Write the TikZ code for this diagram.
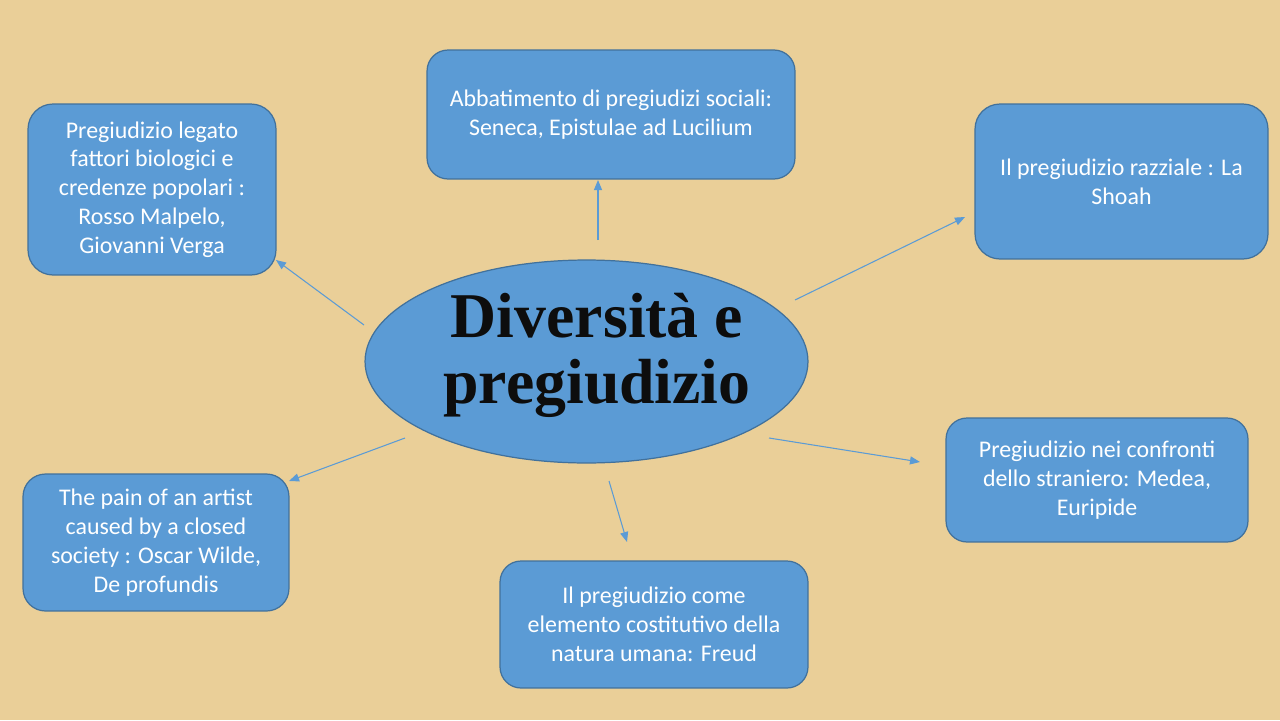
\documentclass[tikz,border=0pt]{standalone}
\usepackage{fontspec}
\setmainfont{Carlito}
\newfontfamily\titlefont{Liberation Serif}
\usepackage{xcolor}
\usepackage{tikz}
\usetikzlibrary{shapes.geometric, arrows.meta}
\definecolor{papyrus}{RGB}{234,207,152}
\definecolor{boxblue}{RGB}{91,155,213}
\definecolor{boxline}{RGB}{65,113,156}
\tikzstyle{topic} = [rectangle, rounded corners=0.5cm, align=center, inner sep=0pt, draw=boxline, line width=0.7pt, fill=boxblue, text=white, font=\fontsize{13.6}{16.4}\selectfont]
\tikzstyle{hub} = [ellipse, inner sep=0pt, draw=boxline, line width=0.7pt, fill=boxblue]
\tikzstyle{hubtext} = [align=center, inner sep=0pt, text=black!95, font=\titlefont\bfseries\fontsize{36.3}{37.5}\selectfont]
\tikzstyle{link} = [draw=boxblue, line width=0.6pt, -{Triangle[length=0.2cm,width=0.16cm]}]

\begin{document}
\begin{tikzpicture}[x=0.02cm, y=-0.02cm]

		\fill[papyrus] (0,0) rectangle (1280,720);
		\useasboundingbox (0,0) rectangle (1280,720);

		\node (theme) [hub, minimum width=8.86cm, minimum height=4.06cm] at (586.5,361.5) {};
		\node (themeText) [hubtext] at (597,355) {Diversità e\\pregiudizio};
		\node (biology) [topic, minimum width=4.96cm, minimum height=3.42cm] at (152,189.5) {Pregiudizio legato\\fattori biologici e\\credenze popolari :\\Rosso Malpelo,\\Giovanni Verga};
		\node (seneca) [topic, minimum width=7.36cm, minimum height=2.58cm, rounded corners=0.42cm] at (611,114.5) {Abbatimento di pregiudizi sociali:\\Seneca, Epistulae ad Lucilium};
		\node (shoah) [topic, minimum width=5.86cm, minimum height=3.1cm] at (1121.5,181.5) {Il pregiudizio razziale : La\\Shoah};
		\node (medea) [topic, minimum width=6.04cm, minimum height=2.48cm, rounded corners=0.42cm] at (1097,480) {Pregiudizio nei confronti\\dello straniero: Medea,\\Euripide};
		\node (freud) [topic, minimum width=6.16cm, minimum height=2.54cm, rounded corners=0.42cm] at (654,624.5) {Il pregiudizio come\\elemento costitutivo della\\natura umana: Freud};
		\node (wilde) [topic, minimum width=5.32cm, minimum height=2.74cm, rounded corners=0.45cm] at (156,542.5) {The pain of an artist\\caused by a closed\\society : Oscar Wilde,\\De profundis};

		% free ends of the arrows
		\coordinate (upStart) at (598,240);
		\coordinate (upEnd) at (598,180);
		\coordinate (ulStart) at (364,325);
		\coordinate (ulEnd) at (276,260);
		\coordinate (urStart) at (795,300);
		\coordinate (urEnd) at (965,217);
		\coordinate (lrStart) at (769,438);
		\coordinate (lrEnd) at (920,462);
		\coordinate (dnStart) at (609,481);
		\coordinate (dnEnd) at (627,542);
		\coordinate (llStart) at (405,438);
		\coordinate (llEnd) at (289,481);

		\draw [link] (upStart) -- (upEnd);
		\draw [link] (ulStart) -- (ulEnd);
		\draw [link] (urStart) -- (urEnd);
		\draw [link] (lrStart) -- (lrEnd);
		\draw [link] (dnStart) -- (dnEnd);
		\draw [link] (llStart) -- (llEnd);
	\end{tikzpicture}
\end{document}
